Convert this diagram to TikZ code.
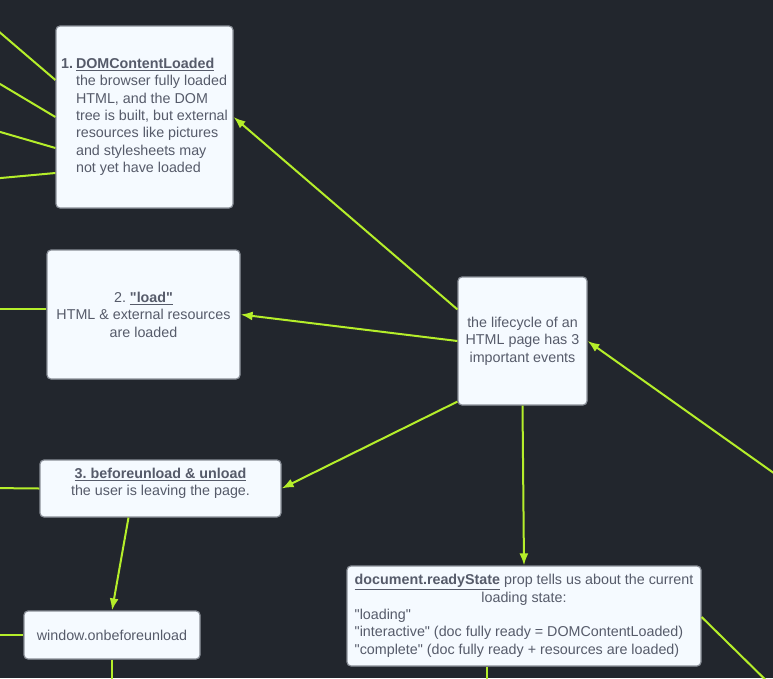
\documentclass[tikz,border=0pt]{standalone}
\usepackage{fontspec}
\setmainfont{Liberation Sans}[Ligatures=TeXOff]
\usetikzlibrary{arrows.meta,calc}
\frenchspacing
\definecolor{bgc}{RGB}{34,38,45}
\definecolor{limec}{RGB}{181,238,42}
\definecolor{boxfill}{RGB}{245,250,255}
\definecolor{boxdraw}{RGB}{138,143,152}
\definecolor{txt}{RGB}{86,91,106}
\tikzset{
  box/.style={draw=boxdraw, fill=boxfill, rounded corners=4pt, line width=1.2pt,
    text=txt, align=center, inner sep=2pt,
    font=\fontsize{14.3}{17.4}\selectfont},
  conn/.style={draw=limec, line width=2pt, -{Latex[length=12pt,width=9pt]}},
  plain/.style={draw=limec, line width=2pt},
}
\begin{document}
\begin{tikzpicture}[x=1pt,y=-1pt]
\fill[bgc] (0,0) rectangle (773,678);
\useasboundingbox (0,0) rectangle (773,678);

\node[box, minimum width=177pt, minimum height=182pt] (dom) at (144.5,117)
 {\begin{tabular}{@{}l@{\hspace{3pt}}l@{}}
  \textbf{1.} & \underline{\textbf{DOMContentLoaded}}\\
  & the browser fully loaded\\
  & HTML, and the DOM\\
  & tree is built, but external\\
  & resources like pictures\\
  & and stylesheets may\\
  & not yet have loaded
  \end{tabular}};

\node[box, minimum width=193pt, minimum height=129pt] (load) at (143.5,314.5)
 {2. \underline{\textbf{"load"}}\\HTML \& external resources\\are loaded};

\node[box, minimum width=129pt, minimum height=128pt] (c) at (522.5,341)
 {the lifecycle of an\\HTML page has 3\\important events};

\node[box, minimum width=241pt, minimum height=57pt] (bu) at (160.5,488.5)
 {\raisebox{5pt}[\height][\depth]{\begin{tabular}{@{}c@{}}\underline{\textbf{3. beforeunload \& unload}}\\the user is leaving the page.\end{tabular}}};

\node[box, minimum width=176pt, minimum height=48pt] (win) at (112,635)
 {window.onbeforeunload};

\node[box, minimum width=354pt, minimum height=100pt] (rs) at (524,616)
 {\begin{tabular}{@{}l@{}}
  \multicolumn{1}{@{}c@{}}{\underline{\textbf{document.readyState}} prop tells us about the current}\\
  \multicolumn{1}{@{}c@{}}{loading state:}\\
  "loading"\\
  "interactive" (doc fully ready = DOMContentLoaded)\\
  "complete" (doc fully ready + resources are loaded)
  \end{tabular}};

% off-screen ends
\coordinate (l1) at (-10,24);
\coordinate (l2) at (-10,78);
\coordinate (l3) at (-10,129);
\coordinate (l4) at (-10,179);
\coordinate (l5) at (-10,309);
\coordinate (l6) at (-10,488);
\coordinate (l7) at (-10,635);
\coordinate (r1) at (785,481);
\coordinate (b1) at (112,692);
\coordinate (b2) at (487,692);
\coordinate (r2) at (783,697);

\draw[conn] ([yshift=-33pt]c.north west) -- (dom.east);
\draw[conn] (c.west) -- (load.east);
\draw[conn] ([yshift=4pt]c.south west) -- (bu.east);
\draw[conn] (c.south) -- (rs.north);
\draw[conn] (r1) -- (c.east);
\draw[conn] ([xshift=-32pt]bu.south) -- (win.north);
\draw[conn] (win.south) -- (b1);
\draw[plain] ([xshift=-37pt]rs.south) -- (b2);
\draw[plain] ([yshift=-1pt]rs.east) -- (r2);

\draw[plain] (l1) -- ([yshift=37pt]dom.west);
\draw[plain] (l2) -- (dom.west);
\draw[plain] (l3) -- ([yshift=-31pt]dom.west);
\draw[plain] (l4) -- ([yshift=-56pt]dom.west);
\draw[plain] (l5) -- ([yshift=5.5pt]load.west);
\draw[plain] (l6) -- (bu.west);
\draw[plain] (l7) -- (win.west);
\end{tikzpicture}
\end{document}
